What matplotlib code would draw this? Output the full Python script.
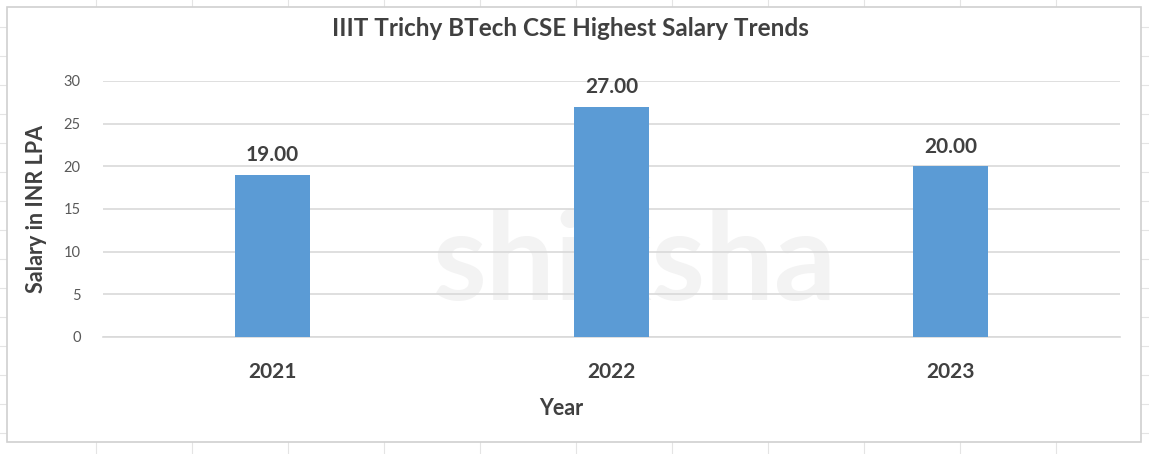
import matplotlib.pyplot as plt
from matplotlib.lines import Line2D

# data
years = ['2021', '2022', '2023']
salary = [19.00, 27.00, 20.00]
y_ticks = [0, 5, 10, 15, 20, 25, 30]

plt.rcParams['font.family'] = ['Lato', 'DejaVu Sans']

fig = plt.figure(figsize=(11.49, 4.54), dpi=100)

# faint spreadsheet cells behind the chart
for x in range(96, 1149, 96):
    fig.add_artist(Line2D([x / 1149, x / 1149], [0, 1], color='#e4e4e4', lw=0.8, zorder=0))
for y in range(27, 454, 29):
    fig.add_artist(Line2D([0, 1], [1 - y / 454, 1 - y / 454], color='#e4e4e4', lw=0.8, zorder=0))

# chart frame
frame = plt.Rectangle((7 / 1149, 1 - 442 / 454), (1141 - 7) / 1149, (442 - 7) / 454,
                      transform=fig.transFigure, facecolor='white', edgecolor='#d0d0d0',
                      lw=1.2, zorder=1)
fig.add_artist(frame)

ax = fig.add_axes([103 / 1149, 117 / 454, (1120 - 103) / 1149, (337 - 81) / 454])
ax.set_zorder(2)
ax.patch.set_alpha(0)

# watermark
ax.text(1.07, 8.4, 'shiksha', ha='center', va='center', fontsize=88, fontweight='bold',
        color='#f3f3f3', zorder=0)

x = range(len(years))
bars = ax.bar(x, salary, width=0.22, color='#5B9BD5', zorder=3)

for xi, v in zip(x, salary):
    ax.text(xi, v + 1.1, f'{v:.2f}', ha='center', va='bottom', fontsize=15,
            fontweight='bold', color='#404040', zorder=4)

ax.set_xlim(-0.5, 2.5)
ax.set_ylim(0, 30)
ax.set_yticks(y_ticks)
ax.set_xticks(list(x))
ax.set_xticklabels(years, fontsize=15, fontweight='bold', color='#404040')
ax.tick_params(axis='y', labelsize=10.5, labelcolor='#595959', length=0, pad=16)
ax.tick_params(axis='x', length=0, pad=18)
ax.grid(axis='y', color='#d9d9d9', lw=1.2, zorder=0)
for s in ['top', 'right', 'left']:
    ax.spines[s].set_visible(False)
ax.spines['bottom'].set_color('#d9d9d9')
ax.spines['bottom'].set_linewidth(1.2)

ax.set_xlabel('Year', fontsize=15.5, fontweight='bold', color='#404040', labelpad=14)
ax.xaxis.set_label_coords((561 - 103) / 1017, -(398 - 337) / 256)
ax.set_ylabel('Salary in INR LPA', fontsize=15.5, fontweight='bold', color='#404040', labelpad=12)

fig.text(570 / 1149, 1 - 29 / 454, 'IIIT Trichy BTech CSE Highest Salary Trends',
         ha='center', va='center', fontsize=17.5, fontweight='bold', color='#404040')

fig.savefig('out.png', dpi=100)
